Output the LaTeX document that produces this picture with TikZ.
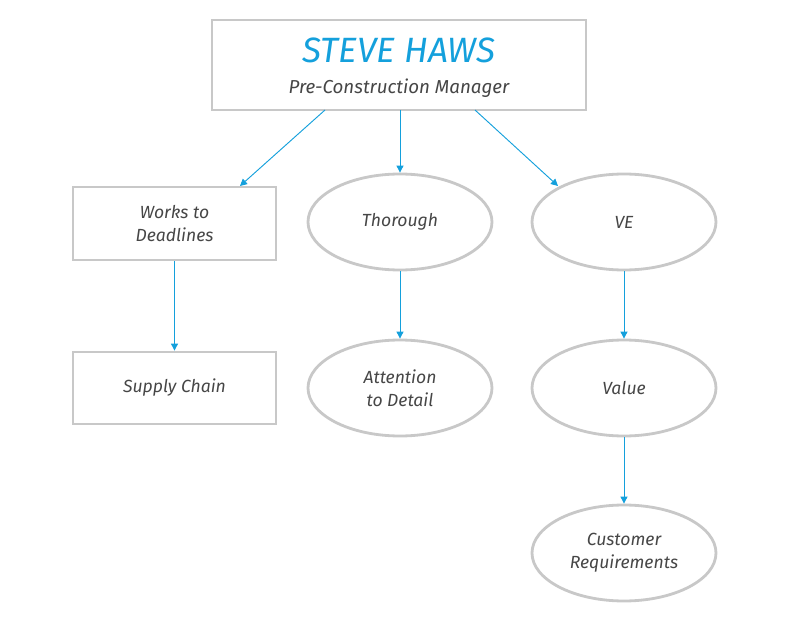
\documentclass[tikz,border=0pt]{standalone}
\usepackage{fontspec}
\setmainfont{Fira Sans}
\usetikzlibrary{shapes.geometric,arrows.meta}
\definecolor{bd}{RGB}{200,200,200}
\definecolor{tx}{RGB}{70,70,70}
\definecolor{bl}{RGB}{20,160,220}
\begin{document}
\begin{tikzpicture}[x=0.03cm,y=-0.03cm,
 lab/.style={text=tx,font=\itshape\fontsize{15}{20}\selectfont,align=center},
 box/.style={draw=bd,line width=2.4pt,fill=white,lab,inner sep=0pt},
 ell/.style={ellipse,draw=bd,line width=2.4pt,fill=white,lab,inner sep=0pt,minimum width=184*0.03cm,minimum height=96*0.03cm},
 arr/.style={draw=bl,line width=0.8pt,-{Triangle[length=6pt,width=6pt]}}]
\useasboundingbox (0,0) rectangle (800,619);
\node[box,minimum width=374*0.03cm,minimum height=90*0.03cm] (top) at (399,65) {};
\node[text=bl,font=\itshape\fontsize{30}{34}\selectfont] (name) at (399,50) {STEVE HAWS};
\node[lab,font=\itshape\fontsize{16}{20}\selectfont] (role) at (399,88) {Pre-Construction Manager};
\node[box,minimum width=203*0.03cm,minimum height=73*0.03cm] (works) at (174.5,223.5) {Works to\\Deadlines};
\node[box,minimum width=203*0.03cm,minimum height=72*0.03cm] (supply) at (174.5,388) {Supply Chain};
\node[ell] (thor) at (400,222) {Thorough};
\node[ell] (ve) at (624,222) {VE};
\node[ell] (att) at (400,388) {Attention\\to Detail};
\node[ell] (val) at (624,388) {Value};
\node[ell] (cust) at (624,553) {Customer\\Requirements};
\coordinate (a1) at (325,110); \coordinate (a2) at (400,110); \coordinate (a3) at (475,110);
\coordinate (w1) at (240,186); \coordinate (v1) at (558,186);
\draw[arr] (a1) -- (w1);
\draw[arr] (a2) -- (thor.north);
\draw[arr] (a3) -- (v1);
\draw[arr] (works.south) -- (supply.north);
\draw[arr] (thor.south) -- (att.north);
\draw[arr] (ve.south) -- (val.north);
\draw[arr] (val.south) -- (cust.north);
\end{tikzpicture}
\end{document}
